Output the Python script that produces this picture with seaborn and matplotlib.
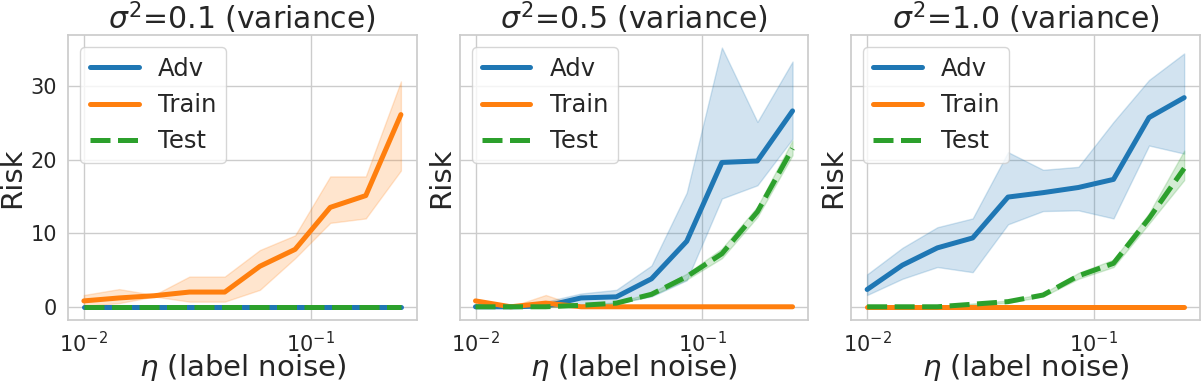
import numpy as np
import matplotlib
matplotlib.use("Agg")
import matplotlib.pyplot as plt
import seaborn as sns

# label noise levels (log-spaced)
eta = [0.01, 0.0143, 0.0204, 0.0292, 0.0418, 0.0597, 0.0854, 0.122, 0.175, 0.25]

titles = [r"$\sigma^2$=0.1 (variance)", r"$\sigma^2$=0.5 (variance)", r"$\sigma^2$=1.0 (variance)"]

# sigma^2 = 0.1
adv_1 = [0, 0, 0, 0, 0, 0, 0, 0, 0, 0]
adv_1_lo = [0, 0, 0, 0, 0, 0, 0, 0, 0, 0]
adv_1_hi = [0, 0, 0, 0, 0, 0, 0, 0, 0, 0]
train_1 = [0.8, 1.2, 1.5, 2.0, 2.0, 5.5, 7.8, 13.5, 15.1, 26.1]
train_1_lo = [0.1, 0.5, 1.4, 0.7, 0.7, 2.3, 6.6, 11.4, 12.0, 18.5]
train_1_hi = [1.6, 2.4, 1.6, 4.1, 4.1, 7.7, 9.7, 17.7, 17.7, 30.6]
test_1 = [0, 0, 0, 0, 0, 0, 0, 0, 0, 0]
test_1_lo = [0, 0, 0, 0, 0, 0, 0, 0, 0, 0]
test_1_hi = [0, 0, 0, 0, 0, 0, 0, 0, 0, 0]

# sigma^2 = 0.5
adv_2 = [0, 0, 0.1, 1.2, 1.35, 3.8, 8.9, 19.6, 19.8, 26.6]
adv_2_lo = [0, 0, 0, 0, 0.5, 1.4, 3.6, 14.7, 16.5, 22.8]
adv_2_hi = [0, 0, 0.7, 1.8, 2.3, 5.6, 15.5, 35.2, 25.1, 33.3]
train_2 = [0.8, 0, 0.5, 0, 0, 0, 0, 0, 0, 0]
train_2_lo = [0.7, 0, 0, 0, 0, 0, 0, 0, 0, 0]
train_2_hi = [0.9, 0, 1.6, 0, 0, 0, 0, 0, 0, 0]
test_2 = [0, 0, 0, 0.2, 0.5, 1.7, 4.1, 7.2, 12.9, 21.5]
test_2_lo = [0, 0, 0, 0.1, 0.4, 1.5, 3.7, 6.6, 12.2, 20.6]
test_2_hi = [0, 0, 0, 0.3, 0.6, 1.9, 4.5, 7.9, 13.6, 22.6]

# sigma^2 = 1.0
adv_3 = [2.35, 5.65, 8.0, 9.35, 14.9, 15.5, 16.2, 17.3, 25.7, 28.4]
adv_3_lo = [1.6, 3.8, 5.4, 4.7, 11.2, 13.0, 13.1, 12.0, 21.9, 20.8]
adv_3_hi = [4.4, 8.0, 10.8, 12.0, 21.0, 18.6, 19.0, 25.1, 30.8, 34.4]
train_3 = [0, 0, 0, 0, 0, 0, 0, 0, 0, 0]
train_3_lo = [0, 0, 0, 0, 0, 0, 0, 0, 0, 0]
train_3_hi = [0, 0, 0, 0, 0, 0, 0, 0, 0, 0]
test_3 = [0, 0, 0, 0.35, 0.7, 1.6, 4.2, 5.9, 12.0, 18.8]
test_3_lo = [0, 0, 0, 0.25, 0.55, 1.4, 3.8, 5.4, 11.3, 17.2]
test_3_hi = [0, 0, 0, 0.45, 0.85, 1.8, 4.6, 6.4, 12.7, 21.2]

panels = [
    [(adv_1, adv_1_lo, adv_1_hi), (train_1, train_1_lo, train_1_hi), (test_1, test_1_lo, test_1_hi)],
    [(adv_2, adv_2_lo, adv_2_hi), (train_2, train_2_lo, train_2_hi), (test_2, test_2_lo, test_2_hi)],
    [(adv_3, adv_3_lo, adv_3_hi), (train_3, train_3_lo, train_3_hi), (test_3, test_3_lo, test_3_hi)],
]
names = ["Adv", "Train", "Test"]
styles = ["-", "-", (0, (4, 1.5))]

sns.set_theme(style="whitegrid")
plt.rcParams['font.family'] = ['DejaVu Sans']
colors = sns.color_palette("tab10", 3)

fig, axes = plt.subplots(1, 3, figsize=(12.04, 3.81), dpi=100)
fig.subplots_adjust(left=0.0565, right=0.9967, top=0.908, bottom=0.16, wspace=0.123)

for i, (ax, title, series) in enumerate(zip(axes, titles, panels)):
    for name, ls, c, (mean, lo, hi) in zip(names, styles, colors, series):
        sns.lineplot(x=eta, y=mean, ax=ax, color=c, lw=3.6, linestyle=ls,
                     label=name, solid_capstyle="round")
        ax.fill_between(eta, lo, hi, color=c, alpha=0.2)
    ax.set_xscale("log")
    ax.set_ylim(-1.8, 36.9)
    ax.set_yticks([0, 10, 20, 30])
    ax.set_title(title, fontsize=21.5, pad=4)
    ax.set_xlabel(r"$\eta$ (label noise)", fontsize=21, labelpad=-3)
    ax.set_ylabel("Risk", fontsize=21, labelpad=3)
    ax.tick_params(labelsize=15, pad=2)
    if i > 0:
        ax.tick_params(axis="y", labelleft=False)
    ax.legend(loc="upper left", fontsize=17.5)

fig.savefig("out.png", dpi=100)
